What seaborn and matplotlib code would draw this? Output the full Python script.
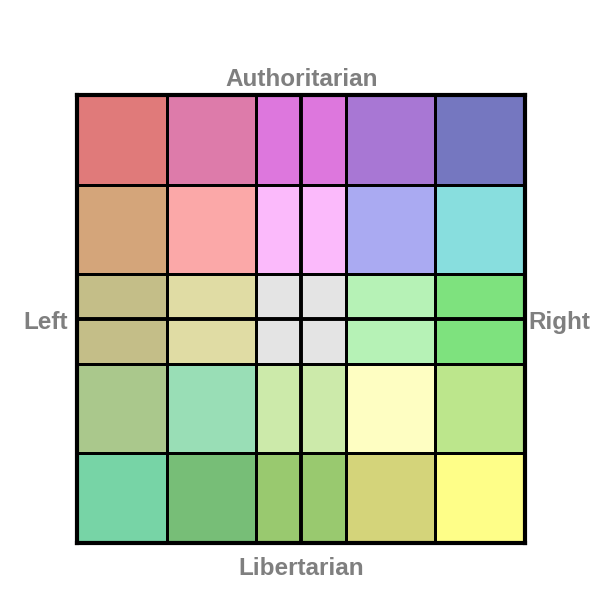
import numpy as np
import matplotlib
matplotlib.use("Agg")
import matplotlib.pyplot as plt
import seaborn as sns
from matplotlib.colors import ListedColormap

# 5x5 grid of colours, top row (authoritarian) to bottom row (libertarian)
row_auth = ["#E07A7A", "#DD7BAA", "#DD77DD", "#A877D4", "#7577C0"]
row_auth_mid = ["#D4A57A", "#FBA8A8", "#FBBAFB", "#AAAAF2", "#88DEDE"]
row_center = ["#C4BE88", "#E0DCA4", "#E4E4E4", "#B6F2B6", "#7EE27E"]
row_lib_mid = ["#AAC88C", "#99DEB6", "#CCEAAA", "#FEFEC2", "#BCE68C"]
row_lib = ["#77D4A6", "#77BE77", "#99C96F", "#D4D47A", "#FEFE88"]

top_label = "Authoritarian"
bottom_label = "Libertarian"
left_label = "Left"
right_label = "Right"

rows = [row_auth, row_auth_mid, row_center, row_lib_mid, row_lib]
flat = [c for r in rows for c in r]
idx = np.arange(len(flat)).reshape(len(rows), len(row_auth))

sns.set_style("white")
plt.rcParams['font.family'] = ['Liberation Sans', 'DejaVu Sans']

fig = plt.figure(figsize=(6, 6), dpi=100)
ax = fig.add_axes([0.1283, 0.095, 0.7467, 0.7467])
sns.heatmap(idx, cmap=ListedColormap(flat), vmin=-0.5, vmax=len(flat) - 0.5,
            cbar=False, linewidths=0.9, linecolor="black", square=True,
            xticklabels=False, yticklabels=False, ax=ax)

n = len(row_auth)
ax.axhline(n / 2, color="black", lw=2.8)
ax.axvline(n / 2, color="black", lw=2.8)
for s in ax.spines.values():
    s.set_visible(True)
    s.set_color("black")
    s.set_linewidth(3)

txt = dict(color="#7f7f7f", fontweight="bold", fontsize=17.5)
fig.text(0.502, 0.867, top_label, ha="center", va="center", **txt)
fig.text(0.502, 0.053, bottom_label, ha="center", va="center", **txt)
fig.text(0.076, 0.462, left_label, ha="center", va="center", **txt)
fig.text(0.932, 0.462, right_label, ha="center", va="center", **txt)

fig.savefig("out.png", dpi=100)
